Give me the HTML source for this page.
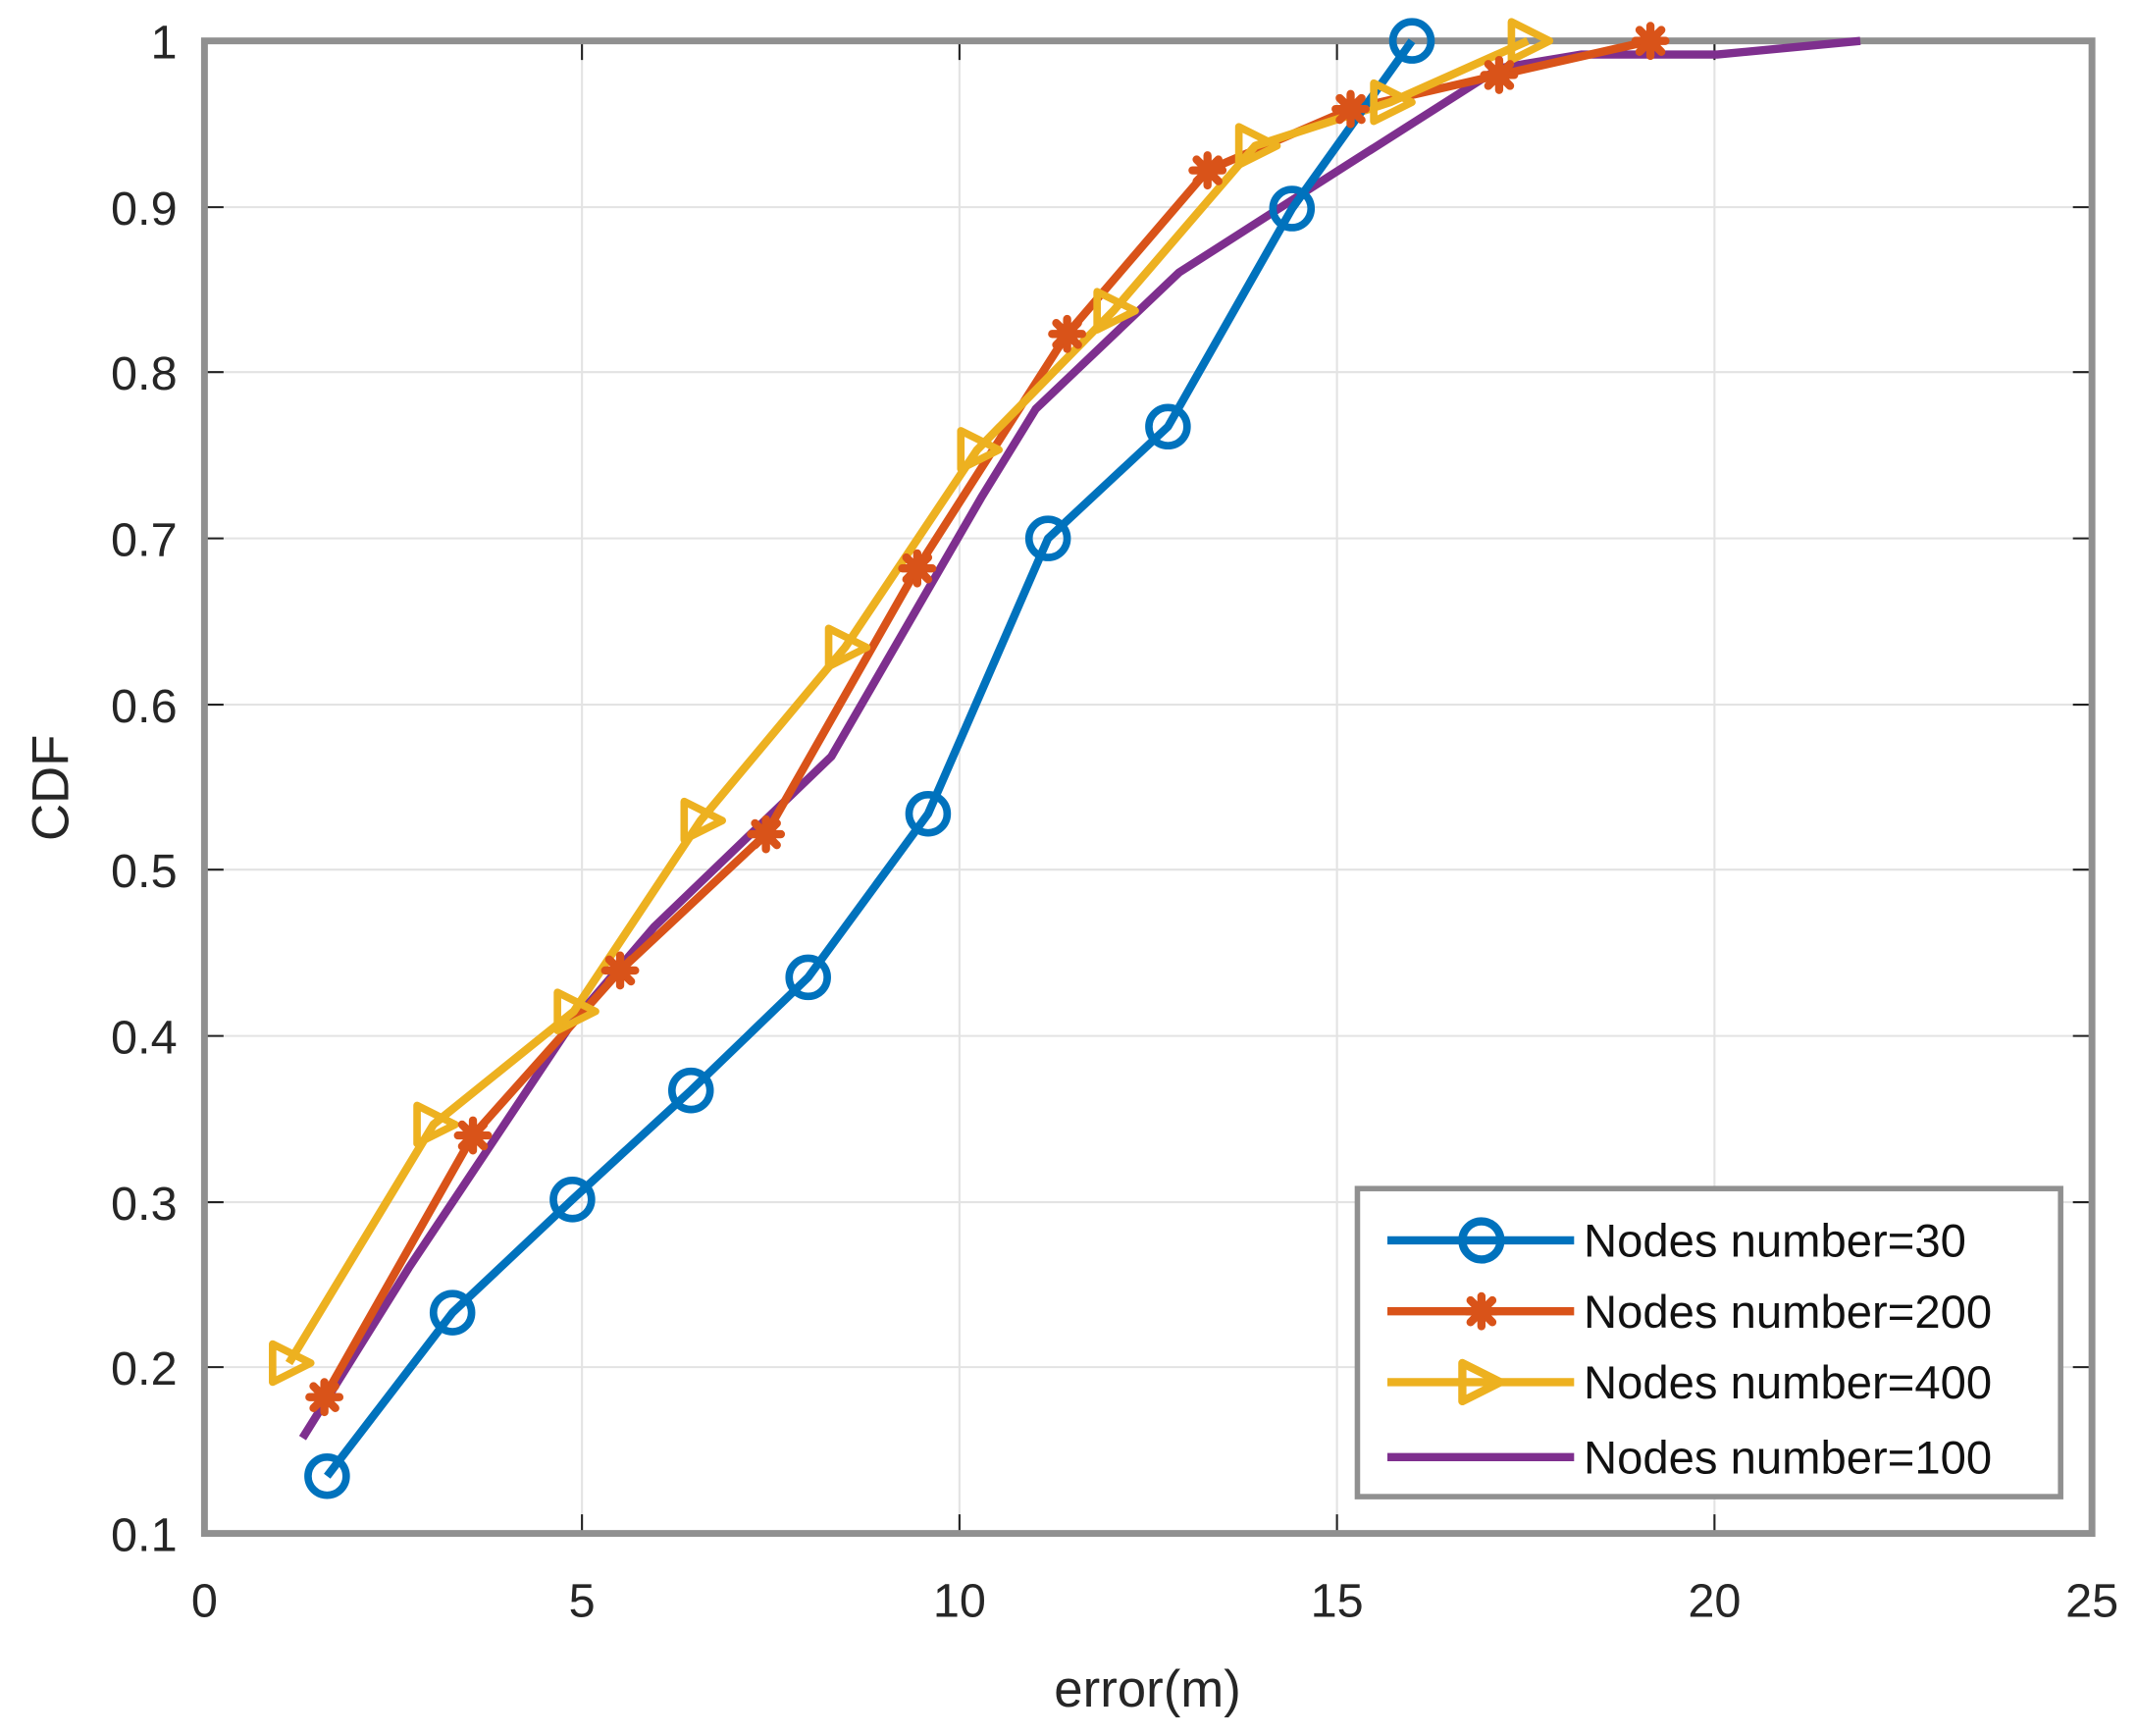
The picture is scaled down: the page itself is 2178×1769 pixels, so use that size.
<!DOCTYPE html><html><head><style>html,body{margin:0;background:#fff}</style></head><body>
<svg width="2178" height="1764" viewBox="0 0 1568 1270" xmlns="http://www.w3.org/2000/svg" font-family="Liberation Sans, sans-serif">
<defs><path id="st" d="M-11 0h22M0 -11v22M-8 -8l16 16M-8 8l16 -16"/></defs>
<rect width="1568" height="1270" fill="#fff"/>
<g stroke="#e3e3e3" stroke-width="1.5">
<line x1="427" y1="30" x2="427" y2="1125"/><line x1="704" y1="30" x2="704" y2="1125"/><line x1="981" y1="30" x2="981" y2="1125"/><line x1="1258" y1="30" x2="1258" y2="1125"/>
<line x1="150" y1="152" x2="1535" y2="152"/><line x1="150" y1="273" x2="1535" y2="273"/><line x1="150" y1="395" x2="1535" y2="395"/><line x1="150" y1="517" x2="1535" y2="517"/><line x1="150" y1="638" x2="1535" y2="638"/><line x1="150" y1="760" x2="1535" y2="760"/><line x1="150" y1="882" x2="1535" y2="882"/><line x1="150" y1="1003" x2="1535" y2="1003"/>
</g>
<g stroke="#222" stroke-width="1.5">
<path d="M427 1125v-14M704 1125v-14M981 1125v-14M1258 1125v-14M427 30v14M704 30v14M981 30v14M1258 30v14"/>
<path d="M150 152h14M150 273h14M150 395h14M150 517h14M150 638h14M150 760h14M150 882h14M150 1003h14M1535 152h-14M1535 273h-14M1535 395h-14M1535 517h-14M1535 638h-14M1535 760h-14M1535 882h-14M1535 1003h-14"/>
</g>
<rect x="150" y="30" width="1385" height="1095" fill="none" stroke="#909090" stroke-width="5"/>
<g font-size="35" fill="#262626" text-anchor="end">
<text x="130" y="43">1</text><text x="130" y="165">0.9</text><text x="130" y="286">0.8</text><text x="130" y="408">0.7</text><text x="130" y="530">0.6</text><text x="130" y="651">0.5</text><text x="130" y="773">0.4</text><text x="130" y="895">0.3</text><text x="130" y="1016">0.2</text><text x="130" y="1138">0.1</text>
</g>
<g font-size="35" fill="#262626" text-anchor="middle">
<text x="150" y="1186">0</text><text x="427" y="1186">5</text><text x="704" y="1186">10</text><text x="981" y="1186">15</text><text x="1258" y="1186">20</text><text x="1535" y="1186">25</text>
<text x="842" y="1252" font-size="38">error(m)</text>
<text transform="translate(50 578) rotate(-90)" font-size="38">CDF</text>
</g>
<g fill="none" stroke-width="6" stroke-linejoin="round">
<polyline stroke="#7E2F8E" points="222,1055 300,930 420,750 480,680 610,555 720,365 760,300 865,200 990,120 1100,50 1160,40 1260,40 1365,30"/>
<polyline stroke="#D95319" points="238,1025 347,833 455,712 562,612 673,417 783,245 886,125 991,80 1100,55 1211,30"/>
<polyline stroke="#EDB120" points="212,1000 318,825 421,742 514,602 620,475 717,330 817,228 921,107 1020,75 1121,30"/>
<polyline stroke="#0072BD" points="240,1083 332,963 420,880 507,800 593,717 681,597 769,395 857,313 948,153 1036,30"/>
</g>
<g fill="none" stroke="#0072BD" stroke-width="5.5">
<circle cx="240" cy="1083" r="14"/><circle cx="332" cy="963" r="14"/><circle cx="420" cy="880" r="14"/><circle cx="507" cy="800" r="14"/><circle cx="593" cy="717" r="14"/><circle cx="681" cy="597" r="14"/><circle cx="769" cy="395" r="14"/><circle cx="857" cy="313" r="14"/><circle cx="948" cy="153" r="14"/><circle cx="1036" cy="30" r="14"/>
</g>
<g fill="none" stroke="#EDB120" stroke-width="5.5" stroke-linejoin="round">
<path d="M200 986l28 14l-28 14z"/><path d="M306 811l28 14l-28 14z"/><path d="M409 728l28 14l-28 14z"/><path d="M502 588l28 14l-28 14z"/><path d="M608 461l28 14l-28 14z"/><path d="M705 316l28 14l-28 14z"/><path d="M805 214l28 14l-28 14z"/><path d="M909 93l28 14l-28 14z"/><path d="M1008 61l28 14l-28 14z"/><path d="M1109 16l28 14l-28 14z"/>
</g>
<g stroke="#D95319" stroke-width="6" stroke-linecap="round">
<use href="#st" x="238" y="1025"/><use href="#st" x="347" y="833"/><use href="#st" x="455" y="712"/><use href="#st" x="562" y="612"/><use href="#st" x="673" y="417"/><use href="#st" x="783" y="245"/><use href="#st" x="886" y="125"/><use href="#st" x="991" y="80"/><use href="#st" x="1100" y="55"/><use href="#st" x="1211" y="30"/>
</g>
<rect x="996" y="872" width="516" height="226" fill="#fff" stroke="#909090" stroke-width="4"/>
<g stroke-width="6" fill="none">
<line x1="1018" y1="910" x2="1155" y2="910" stroke="#0072BD"/><circle cx="1087" cy="910" r="14" stroke="#0072BD"/>
<line x1="1018" y1="962" x2="1155" y2="962" stroke="#D95319"/>
<line x1="1018" y1="1014" x2="1155" y2="1014" stroke="#EDB120"/><path d="M1073 1000l28 14l-28 14z" stroke="#EDB120" stroke-linejoin="round"/>
<line x1="1018" y1="1069" x2="1155" y2="1069" stroke="#7E2F8E"/>
</g>
<g stroke="#D95319" stroke-width="6" stroke-linecap="round"><use href="#st" x="1087" y="962"/></g>
<g font-size="34" fill="#111">
<text x="1162" y="922">Nodes number=30</text><text x="1162" y="974">Nodes number=200</text><text x="1162" y="1026">Nodes number=400</text><text x="1162" y="1081">Nodes number=100</text>
</g>
</svg>
</body></html>
